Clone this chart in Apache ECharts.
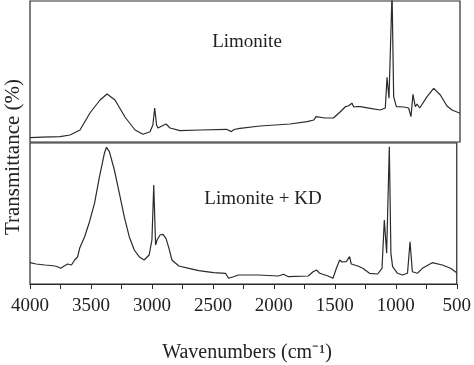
<!DOCTYPE html>
<html><head><meta charset="utf-8">
<script src="https://cdn.jsdelivr.net/npm/echarts@6/dist/echarts.min.js"></script>
<style>html,body{margin:0;padding:0;background:#fff}#c{width:474px;height:365px}</style>
</head><body><div id="c"></div>
<script>
// Wavenumbers (cm^-1) and transmittance (arbitrary units) — Limonite
var wnTop = [4000,3900,3756,3674,3593,3512,3430,3373,3308,3227,3145,3080,3023,3000,2985,2970,2958,2926,2893,2860,2779,2616,2400,2360,2340,2291,2128,1884,1745,1690,1672,1600,1530,1515,1474,1433,1410,1379,1365,1340,1311,1230,1149,1108,1094,1078,1053,1040,1018,958,918,899,883,864,850,828,768,714,660,606,565,500];
var tTop  = [4.3,4.8,5.3,7,12,29,42,48,42,25,12,7.7,10.3,17,34,17,14,16,18,14,11.3,12,12.7,10.4,12.5,13.7,16,18,20.3,22,25.3,24,24,23.7,30.3,35.3,36,38.7,35,35.5,35.3,33.7,32,34,64.7,43.7,150,45.3,35.3,35,34,25.3,47.7,35.3,38,34,45.3,53.7,47,36,32,28.7];
// Limonite + KD
var wnBot = [4000,3950,3878,3830,3797,3770,3748,3720,3691,3660,3634,3610,3593,3552,3512,3471,3430,3390,3373,3349,3308,3267,3227,3186,3145,3105,3064,3023,3000,2985,2970,2958,2934,2909,2885,2860,2836,2779,2698,2616,2494,2396,2372,2331,2291,2128,1963,1922,1881,1718,1678,1650,1623,1556,1515,1487,1460,1440,1406,1379,1365,1352,1311,1271,1216,1149,1113,1094,1075,1053,1040,1026,986,945,904,883,864,823,782,701,619,551,500];
var tBot  = [21.3,20,19,18.5,18,17,15.7,18,20,19,24,27,35.7,47.3,62.3,80.7,107.3,130.7,136.7,132.3,114,90.7,67.3,47.3,34,27.3,24,29,44,99,39,44,49,49.7,45.7,35.7,24,18,15.7,13.3,11.3,10.7,5.7,7.3,9,9,8,9.7,7.3,8,12.3,14,10.7,8,5.7,15.7,24,22,22.3,27.3,20,19,18,15.7,10.7,10,15.7,64,30.7,137.3,30.7,17.3,10.7,9,10.7,42.3,12.3,10.7,15.7,21.3,19,15.7,11.3];
var xTicks = [4000,3500,3000,2500,2000,1500,1000,500];
var panelLabels = ['Limonite','Limonite + KD'];
var xTitle = 'Wavenumbers (cm\u207B\u00B9)';
var yTitle = 'Transmittance (%)';

function pairs(a,b){return a.map(function(v,i){return [v,b[i]];});}
var font = 'Liberation Serif';
var chart = echarts.init(document.getElementById('c'));
var xBase = {type:'value',min:500,max:4000,interval:500,inverse:true,splitLine:{show:false}};
chart.setOption({
  animation:false,
  grid:[
    {left:30,right:14,top:1,height:141,show:true,borderColor:'#2a2a2a',borderWidth:1.2,backgroundColor:'transparent'},
    {left:30,right:14,top:143,height:141,show:true,borderColor:'#2a2a2a',borderWidth:1.2,backgroundColor:'transparent'}
  ],
  xAxis:[
    Object.assign({gridIndex:0,show:false},xBase),
    Object.assign({gridIndex:1,
      axisLine:{show:true,lineStyle:{color:'#2a2a2a',width:1.2}},
      axisTick:{show:true,inside:false,length:5,lineStyle:{color:'#2a2a2a'}},
      minorTick:{show:true,splitNumber:2,length:5,lineStyle:{color:'#2a2a2a'}},
      minorSplitLine:{show:false},
      axisLabel:{show:true,margin:13,fontFamily:font,fontSize:19,color:'#222',
        formatter:function(v){return xTicks.indexOf(v)>=0?String(v):'';}}
    },xBase)
  ],
  yAxis:[
    {type:'value',gridIndex:0,min:0,max:141,show:false},
    {type:'value',gridIndex:1,min:0,max:141,show:false}
  ],
  series:[
    {type:'line',xAxisIndex:0,yAxisIndex:0,data:pairs(wnTop,tTop),showSymbol:false,symbol:'none',clip:true,lineStyle:{color:'#2b2b2b',width:1.2}},
    {type:'line',xAxisIndex:1,yAxisIndex:1,data:pairs(wnBot,tBot),showSymbol:false,symbol:'none',clip:true,lineStyle:{color:'#2b2b2b',width:1.2}}
  ],
  graphic:[
    {type:'text',x:247,y:42,style:{text:panelLabels[0],font:'19px "'+font+'"',fill:'#222',textAlign:'center',textVerticalAlign:'middle'}},
    {type:'text',x:263,y:199,style:{text:panelLabels[1],font:'19px "'+font+'"',fill:'#222',textAlign:'center',textVerticalAlign:'middle'}},
    {type:'text',x:247,y:353,style:{text:xTitle,font:'20px "'+font+'"',fill:'#222',textAlign:'center',textVerticalAlign:'middle'}},
    {type:'text',x:13,y:157,rotation:Math.PI/2,style:{text:yTitle,font:'21px "'+font+'"',fill:'#222',textAlign:'center',textVerticalAlign:'middle'}}
  ]
});
</script></body></html>
